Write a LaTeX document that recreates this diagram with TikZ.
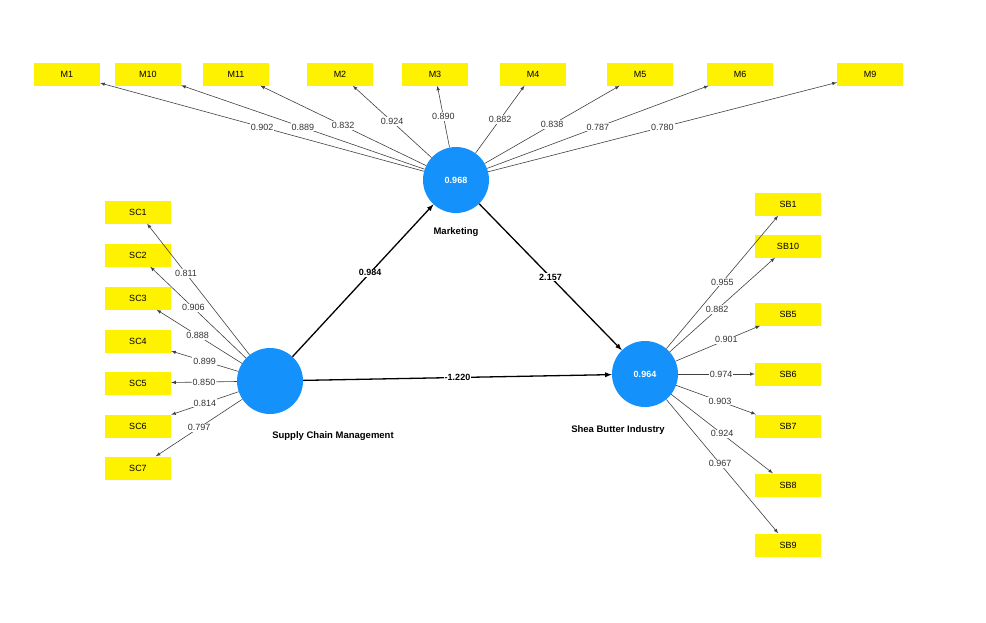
\documentclass[tikz,border=0pt]{standalone}
\usepackage{fontspec}
\setmainfont{Liberation Sans}
\begin{document}
\begin{tikzpicture}[x=1pt,y=-1pt,
  ind/.style={fill=yellow,minimum width=66pt,minimum height=23pt,inner sep=0pt,font=\fontsize{9}{10}\selectfont},
  lv/.style={circle,fill=lvblue,minimum size=66pt,inner sep=0pt,text=white,font=\bfseries\fontsize{9}{10}\selectfont},
  ld/.style={->,>=latex,draw=black!75,line width=0.6pt},
  st/.style={->,>=latex,line width=1.3pt},
  lb/.style={fill=white,inner sep=1pt,font=\fontsize{9}{10}\selectfont,text=black!80},
  sl/.style={fill=white,inner sep=1pt,font=\bfseries\fontsize{9}{10}\selectfont},
  nm/.style={font=\bfseries\fontsize{9.5}{11}\selectfont}]
\definecolor{lvblue}{RGB}{20,145,250}
\useasboundingbox (0,0) rectangle (986,622);
\node[lv] (mk) at (456,180) {0.968};
\node[lv] (sc) at (270,381) {};
\node[lv] (sb) at (645,374) {0.964};
\node[nm] (mkl) at (456,232) {Marketing};
\node[nm] (scl) at (333,436) {Supply Chain Management};
\node[nm] (sbl) at (618,430) {Shea Butter Industry};
\foreach \n/\x in {M1/67,M10/148,M11/236,M2/340,M3/435,M4/533,M5/640,M6/740,M9/870}
  \node[ind] (\n) at (\x,74) {\n};
\foreach \n/\y in {SC1/212,SC2/255,SC3/298,SC4/341,SC5/383,SC6/426,SC7/468}
  \node[ind] (\n) at (138,\y) {\n};
\foreach \n/\y in {SB1/204,SB10/246,SB5/314,SB6/374,SB7/426,SB8/485,SB9/545}
  \node[ind] (\n) at (788,\y) {\n};
\foreach \n/\v in {M1/0.902,M10/0.889,M11/0.832,M2/0.924,M3/0.890,M4/0.882,M5/0.838,M6/0.787,M9/0.780}
  \draw[ld] (mk) -- node[lb,pos=0.5] {\v} (\n);
\foreach \n/\v/\p in {SC1/0.811/0.62,SC2/0.906/0.55,SC3/0.888/0.52,SC4/0.899/0.5,SC5/0.850/0.5,SC6/0.814/0.5,SC7/0.797/0.5}
  \draw[ld] (sc) -- node[lb,pos=\p] {\v} (\n);
\foreach \n/\v/\p in {SB1/0.955/0.5,SB10/0.882/0.45,SB5/0.901/0.6,SB6/0.974/0.56,SB7/0.903/0.55,SB8/0.924/0.5,SB9/0.967/0.48}
  \draw[ld] (sb) -- node[lb,pos=\p] {\v} (\n);
\draw[st] (sc) -- node[sl,pos=0.55] {0.984} (mk);
\draw[st] (mk) -- node[sl,pos=0.5] {2.157} (sb);
\draw[st] (sc) -- node[sl,pos=0.5] {-1.220} (sb);
\end{tikzpicture}
\end{document}
